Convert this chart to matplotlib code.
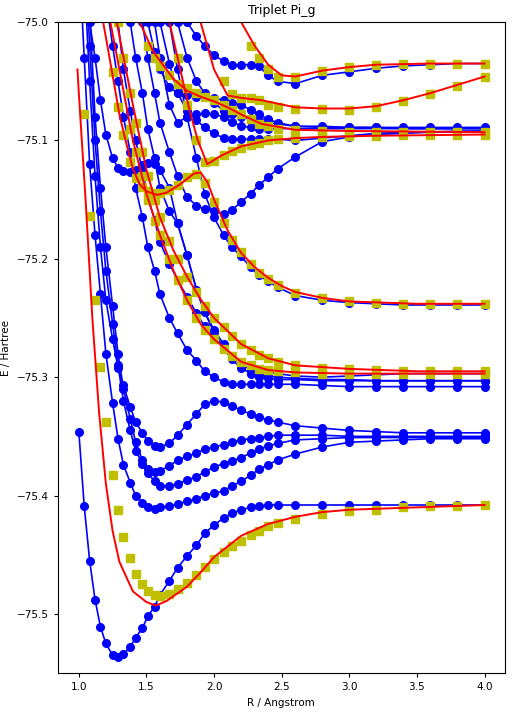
import matplotlib
matplotlib.use("Agg")
import matplotlib.pyplot as plt

G = [1.00,1.04,1.08,1.12,1.16,1.20,1.25,1.29,1.33,1.38,1.42,1.47,1.51,1.56,1.60,1.67,1.73,1.80,
     1.87,1.93,2.00,2.07,2.13,2.20,2.27,2.33,2.40,2.47,2.60,2.80,3.00,3.20,3.40,3.60,3.80,4.00]

# blue series (values for the last len(y) grid points)
B0 = [-75.346,-75.409,-75.455,-75.488,-75.511,-75.525,-75.535,-75.536,-75.534,-75.528,-75.520,-75.512,
      -75.502,-75.494,-75.484,-75.472,-75.461,-75.451,-75.442,-75.432,-75.425,-75.419,-75.415,-75.412,
      -75.410,-75.409,-75.408,-75.408,-75.408,-75.408,-75.408,-75.408,-75.408,-75.408,-75.408,-75.408]
B1 = [-74.96,-75.05,-75.13,-75.19,-75.235,-75.268,-75.292,-75.307,-75.325,-75.338,-75.347,-75.354,-75.358,
      -75.359,-75.356,-75.349,-75.340,-75.331,-75.323,-75.320,-75.321,-75.324,-75.328,-75.331,-75.334,
      -75.336,-75.338,-75.341,-75.343,-75.345,-75.346,-75.347,-75.347,-75.347,-75.347]
B2 = [-74.93,-75.02,-75.10,-75.16,-75.21,-75.255,-75.29,-75.32,-75.345,-75.362,-75.373,-75.378,-75.380,
      -75.379,-75.375,-75.370,-75.367,-75.364,-75.361,-75.359,-75.357,-75.355,-75.353,-75.352,-75.351,
      -75.350,-75.349,-75.349,-75.349,-75.350,-75.350,-75.350,-75.350,-75.350,-75.350]
B3 = [-74.90,-74.99,-75.08,-75.14,-75.19,-75.24,-75.28,-75.31,-75.335,-75.355,-75.370,-75.381,-75.388,
      -75.392,-75.392,-75.390,-75.387,-75.384,-75.380,-75.376,-75.373,-75.371,-75.368,-75.364,-75.361,
      -75.358,-75.356,-75.353,-75.352,-75.351,-75.351,-75.351,-75.351,-75.351,-75.351]
B4 = [-74.94,-75.03,-75.12,-75.18,-75.23,-75.28,-75.322,-75.352,-75.374,-75.389,-75.400,-75.406,-75.410,
      -75.411,-75.410,-75.409,-75.407,-75.405,-75.403,-75.400,-75.398,-75.396,-75.392,-75.388,-75.383,
      -75.378,-75.374,-75.370,-75.365,-75.359,-75.355,-75.354,-75.353,-75.352,-75.352,-75.352]
B5 = [-74.98,-75.02,-75.05,-75.08,-75.11,-75.14,-75.165,-75.19,-75.21,-75.23,-75.25,-75.263,-75.277,
      -75.286,-75.295,-75.300,-75.304,-75.306,-75.306,-75.306,-75.306,-75.306,-75.306,-75.306,-75.307,
      -75.308,-75.308,-75.308,-75.308,-75.308,-75.308]
B6 = [-75.0,-75.04,-75.075,-75.10,-75.125,-75.148,-75.167,-75.186,-75.204,-75.218,-75.232,-75.246,-75.257,
      -75.266,-75.275,-75.282,-75.287,-75.290,-75.294,-75.296,-75.297,-75.299,-75.300,-75.299,-75.298,
      -75.297,-75.297,-75.297,-75.297]
B7 = [-75.0,-75.03,-75.06,-75.085,-75.11,-75.13,-75.148,-75.155,-75.158,-75.160,-75.162,-75.159,-75.152,
      -75.145,-75.138,-75.131,-75.124,-75.114,-75.101,-75.097,-75.095,-75.094,-75.093,-75.093,-75.092]
B8 = [-75.0,-75.04,-75.08,-75.115,-75.145,-75.165,-75.18,-75.19,-75.198,-75.207,-75.214,-75.219,-75.224,
      -75.231,-75.235,-75.237,-75.238,-75.239,-75.239,-75.239,-75.239]
B9 = [-75.0,-75.03,-75.06,-75.09,-75.115,-75.14,-75.16,-75.17,-75.197,-75.226,-75.245,-75.262,-75.275,
      -75.285,-75.292,-75.297,-75.300,-75.301,-75.302,-75.302,-75.303,-75.303,-75.303,-75.303,-75.303,
      -75.303,-75.303]
B10 = [-75.0,-75.012,-75.02,-75.028,-75.033,-75.036,-75.036,-75.036,-75.037,-75.045,-75.05,-75.052,
       -75.045,-75.042,-75.039,-75.037,-75.036,-75.035,-75.035]
B12 = [-75.0,-75.03,-75.05,-75.06,-75.068,-75.075,-75.078,-75.08,-75.082,-75.083,-75.085,-75.086,-75.088,
       -75.089,-75.089,-75.089,-75.089,-75.089,-75.089,-75.089]
B13 = [-75.0,-75.035,-75.06,-75.075,-75.083,-75.089,-75.094,-75.098,-75.099,-75.099,-75.099,-75.099,
       -75.099,-75.099,-75.100,-75.098,-75.096,-75.094,-75.093,-75.093,-75.092,-75.092]
B14 = [-75.0,-75.03,-75.07,-75.085,-75.08,-75.078,-75.077,-75.078,-75.08,-75.084,-75.088,-75.089,-75.09,
       -75.09,-75.09,-75.09,-75.09,-75.09,-75.09,-75.09,-75.09,-75.09,-75.09]
B15 = [-75.0,-75.025,-75.04,-75.055,-75.06,-75.062,-75.063,-75.063,-75.064,-75.066,-75.068,-75.07,-75.074,
       -75.078,-75.082,-75.085,-75.088,-75.088,-75.089,-75.089,-75.09,-75.09,-75.09,-75.09]
B17 = [-75.0,-75.03,-75.066,-75.095,-75.115,-75.123,-75.126,-75.127,-75.125,-75.121,-75.119,-75.12,-75.125,
       -75.14,-75.17,-75.197,-75.226,-75.245,-75.26,-75.272,-75.282,-75.289,-75.294,-75.297,-75.299,-75.300,
       -75.301,-75.302,-75.302,-75.303,-75.303,-75.303,-75.303,-75.303]
BLUE = [B0,B1,B2,B3,B4,B5,B6,B7,B8,B9,B10,B12,B13,B14,B15,B17]

# yellow series
Y0 = [-75.078,-75.164,-75.235,-75.291,-75.338,-75.383,-75.412,-75.435,-75.453,-75.466,-75.475,-75.481,
      -75.484,-75.485,-75.483,-75.479,-75.474,-75.467,-75.460,-75.454,-75.448,-75.443,-75.438,-75.433,
      -75.430,-75.426,-75.423,-75.420,-75.416,-75.413,-75.412,-75.410,-75.409,-75.409,-75.408]
Y1 = [-75.09,-75.11,-75.13,-75.15,-75.168,-75.18,-75.20,-75.218,-75.235,-75.25,-75.26,-75.268,-75.276,
      -75.282,-75.287,-75.290,-75.293,-75.294,-75.295,-75.296,-75.297,-75.297,-75.297,-75.297,-75.297,
      -75.297,-75.297]
Y2 = [-75.0,-75.03,-75.06,-75.085,-75.11,-75.13,-75.15,-75.165,-75.185,-75.20,-75.215,-75.228,-75.24,
      -75.25,-75.258,-75.265,-75.272,-75.277,-75.281,-75.284,-75.287,-75.290,-75.292,-75.293,-75.294,
      -75.295,-75.295,-75.295,-75.295]
Y3 = [-75.042,-75.072,-75.095,-75.118,-75.132,-75.139,-75.143,-75.144,-75.144,-75.142,-75.138,-75.131,
      -75.128,-75.136,-75.152,-75.170,-75.184,-75.194,-75.204,-75.212,-75.217,-75.222,-75.229,-75.233,
      -75.236,-75.237,-75.238,-75.238,-75.238,-75.238]
Y4 = [-75.03,-75.07,-75.10,-75.118,-75.117,-75.112,-75.109,-75.106,-75.104,-75.102,-75.10,-75.099,
      -75.098,-75.097,-75.096,-75.096,-75.095,-75.095,-75.095,-75.095]
Y5 = [-75.02,-75.03,-75.037,-75.045,-75.052,-75.056,-75.06,-75.063,-75.066,-75.07,-75.074,-75.078,
      -75.082,-75.086,-75.088,-75.09,-75.091,-75.092,-75.093,-75.093,-75.093,-75.093,-75.093,-75.093]
YA = [-75.02,-75.03,-75.04,-75.046,-75.046,-75.041,-75.038,-75.036,-75.035,-75.035,-75.035,-75.035]
YB = [-75.05,-75.061,-75.064,-75.064,-75.066,-75.07,-75.072,-75.073,-75.073,-75.074,-75.072,-75.067,
      -75.061,-75.054,-75.046]
YELLOW = [Y0,Y1,Y2,Y3,Y4,Y5,YA,YB]

# red curves (x, y)
R0x = [0.99,1.0,1.05,1.1,1.15,1.2,1.25,1.3,1.4,1.5,1.57,1.65,1.8,1.9,2.0,2.2,2.4,2.6,2.8,3.0,3.5,4.0]
R0y = [-75.04,-75.06,-75.15,-75.25,-75.33,-75.39,-75.43,-75.456,-75.481,-75.490,-75.493,-75.489,-75.477,
       -75.465,-75.452,-75.434,-75.424,-75.418,-75.414,-75.412,-75.410,-75.408]
R1x = [1.28,1.4,1.5,1.6,1.7,1.8,1.9,2.0,2.2,2.4,2.6,3.0,3.5,4.0]
R1y = [-75.0,-75.07,-75.125,-75.165,-75.193,-75.215,-75.234,-75.25,-75.272,-75.284,-75.29,-75.293,-75.295,-75.295]
R2x = [1.2,1.3,1.4,1.5,1.6,1.7,1.8,1.9,2.0,2.2,2.4,2.6,3.0,4.0]
R2y = [-74.98,-75.04,-75.10,-75.145,-75.18,-75.21,-75.235,-75.255,-75.268,-75.287,-75.294,-75.296,-75.297,-75.297]
R3x = [1.18,1.25,1.3,1.35,1.4,1.45,1.5,1.58,1.65,1.75,1.85,1.9,1.95,2.0,2.1,2.2,2.3,2.4,2.5,2.6,2.8,3.0,3.5,4.0]
R3y = [-75.0,-75.045,-75.078,-75.102,-75.124,-75.137,-75.143,-75.146,-75.144,-75.137,-75.128,-75.127,-75.135,
       -75.15,-75.176,-75.195,-75.207,-75.216,-75.223,-75.228,-75.233,-75.236,-75.238,-75.238]
R4x = [1.67,1.75,1.82,1.88,1.95,2.05,2.2,2.4,2.6,2.8,3.2,4.0]
R4y = [-75.0,-75.04,-75.075,-75.10,-75.12,-75.113,-75.105,-75.10,-75.098,-75.097,-75.096,-75.095]
R5x = [1.45,1.55,1.7,1.8,1.9,2.0,2.1,2.2,2.35,2.6,3.0,4.0]
R5y = [-75.0,-75.025,-75.048,-75.058,-75.063,-75.067,-75.072,-75.078,-75.086,-75.091,-75.092,-75.093]
RAx = [2.2,2.3,2.4,2.5,2.6,2.8,3.0,3.2,3.6,4.0]
RAy = [-75.0,-75.02,-75.036,-75.045,-75.046,-75.041,-75.038,-75.036,-75.035,-75.035]
RBx = [1.9,2.0,2.1,2.2,2.35,2.6,2.8,3.0,3.2,3.4,3.6,3.8,4.0]
RBy = [-75.0,-75.04,-75.062,-75.064,-75.066,-75.072,-75.073,-75.073,-75.071,-75.066,-75.06,-75.053,-75.046]
RED = [(R0x,R0y),(R1x,R1y),(R2x,R2y),(R3x,R3y),(R4x,R4y),(R5x,R5y),(RAx,RAy),(RBx,RBy)]

fig = plt.figure(figsize=(5.12, 7.13), dpi=100)
ax = fig.add_axes([0.113, 0.056, 0.873, 0.913])
for y in BLUE:
    ax.plot(G[-len(y):], y, 'o-', color='#0000ff', ms=5.5, lw=1.2)
for y in YELLOW:
    ax.plot(G[-len(y):], y, 's', color='#bfbf00', ms=5.5, ls='none')
for x, y in RED:
    ax.plot(x, y, '-', color='#ff0000', lw=1.4)
ax.set_xlim(0.845, 4.15)
ax.set_ylim(-75.55, -75.0)
ax.set_xticks([1.0, 1.5, 2.0, 2.5, 3.0, 3.5, 4.0])
ax.set_yticks([-75.5, -75.4, -75.3, -75.2, -75.1, -75.0])
ax.tick_params(labelsize=7.5, length=3)
ax.set_title("Triplet Pi_g", fontsize=9)
ax.set_xlabel("R / Angstrom", fontsize=7.5)
ax.set_ylabel("E / Hartree", fontsize=7.5)
fig.savefig("out.png", dpi=100)
